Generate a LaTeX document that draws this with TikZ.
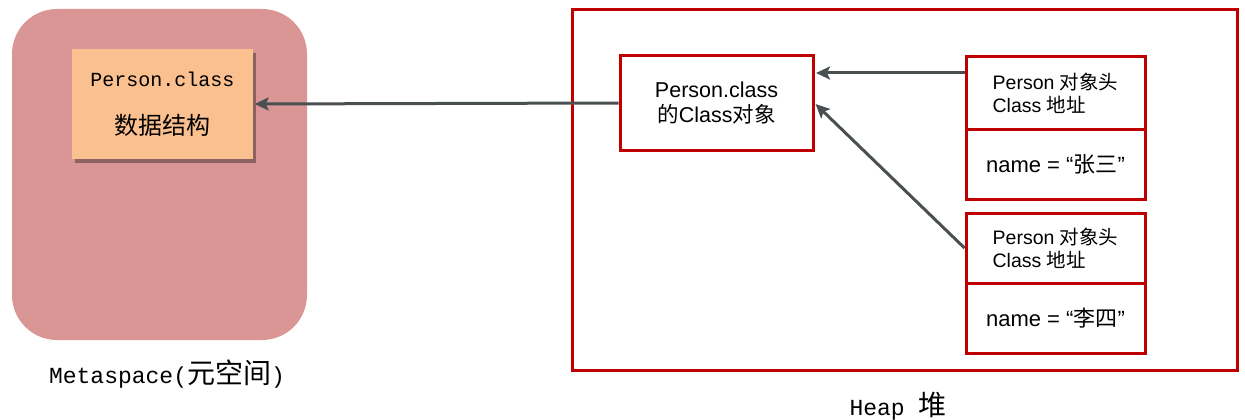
\documentclass[tikz,border=0pt]{standalone}
\usepackage{fontspec}
\setmainfont{Liberation Sans}
\newfontfamily\cjk{Noto Sans CJK SC}
\newfontfamily\monofnt{Liberation Mono}
\usetikzlibrary{arrows.meta}
\usetikzlibrary{shadows}
\definecolor{meta-fill}{HTML}{D99694}
\definecolor{cls-fill}{HTML}{FAC090}
\definecolor{heap-red}{HTML}{C00000}
\definecolor{ref-gray}{HTML}{4A5052}
\newcommand{\zh}[1]{{\cjk #1}}

\begin{document}
\begin{tikzpicture}[x=1pt, y=-1pt,
    redbox/.style={draw=heap-red, line width=3pt, minimum width=179pt, inner sep=0pt},
    ref/.style={draw=ref-gray, line width=3pt, shorten >=1.5pt, -{Stealth[length=14pt, width=13pt, inset=3pt]}}]
    \useasboundingbox (0,0) rectangle (1245,420);

    % --- Metaspace ---
    \node[fill=meta-fill, rounded corners=45pt, minimum width=295pt, minimum height=331pt] (meta) at (159.5,174.5) {};
    \node[fill=cls-fill, minimum width=181pt, minimum height=110pt, align=center,
          font=\monofnt\fontsize{20}{48}\selectfont,
          drop shadow={shadow xshift=3pt, shadow yshift=-4pt, fill=black, opacity=0.35}]
          (pclass) at (162.5,104) {Person.class\\\zh{\fontsize{24}{24}\selectfont 数据结构}};
    \node[font=\monofnt\fontsize{23}{23}\selectfont] (metalabel) at (167,374)
          {Metaspace(\zh{\fontsize{28}{28}\selectfont 元空间})};

    % --- Heap ---
    \node[draw=heap-red, line width=3pt, minimum width=665pt, minimum height=360pt] (heap) at (904.5,190) {};
    \node[font=\monofnt\fontsize{23}{23}\selectfont] (heaplabel) at (898,406)
          {Heap \zh{\fontsize{28}{28}\selectfont 堆}};

    \node[redbox, minimum width=193pt, minimum height=94pt, align=center,
          font=\fontsize{21.5}{25}\selectfont] (clsobj) at (716.5,103)
          {Person.class\\\zh{的}Class\zh{对象}};

    % Person objects
    \node[redbox, minimum height=72pt, align=left, font=\fontsize{19.5}{23}\selectfont] (p1head) at (1055.5,93)
          {Person \zh{对象头}\\Class \zh{地址}};
    \node[redbox, minimum height=70pt, font=\fontsize{22}{22}\selectfont] (p1name) at (1055.5,164)
          {name = “\zh{张三}”};
    \node[redbox, minimum height=70pt, align=left, font=\fontsize{19.5}{23}\selectfont] (p2head) at (1055.5,248)
          {Person \zh{对象头}\\Class \zh{地址}};
    \node[redbox, minimum height=70pt, font=\fontsize{22}{22}\selectfont] (p2name) at (1055.5,318)
          {name = “\zh{李四}”};

    % references
    \coordinate (p1ref) at ([yshift=20pt]p1head.west);
    \draw[ref] (p1ref) -- (p1ref -| clsobj.east);
    \draw[ref] (p2head.west) -- (clsobj.east);
    \draw[ref] (clsobj.west) -- (pclass.east);
\end{tikzpicture}
\end{document}
